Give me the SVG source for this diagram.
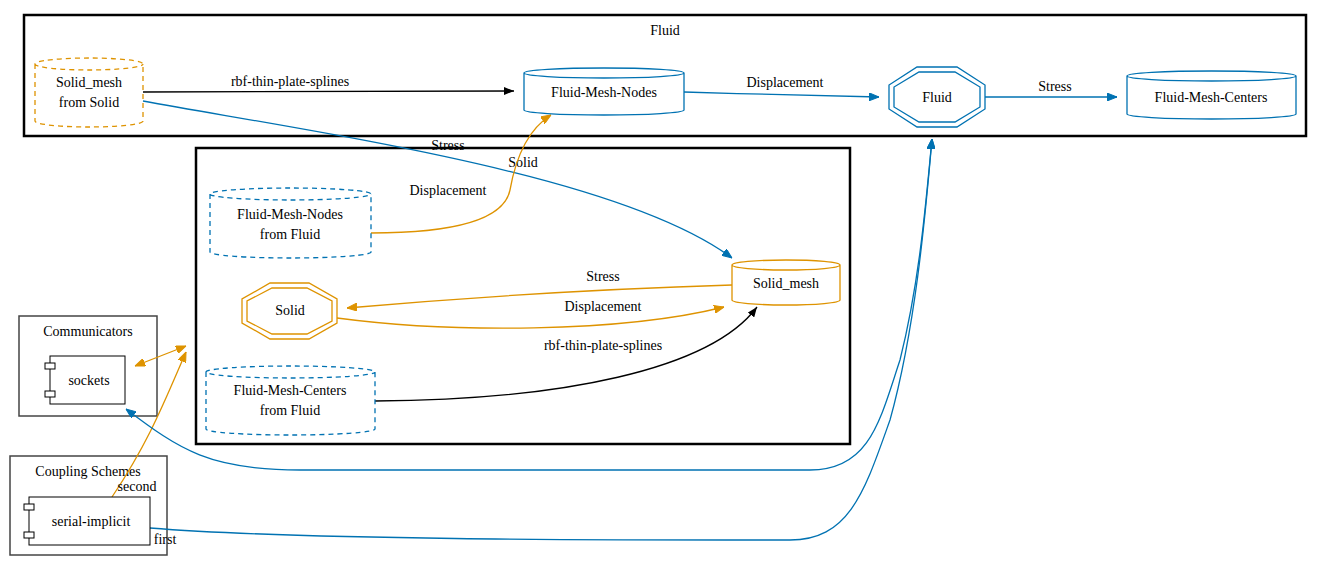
<svg xmlns="http://www.w3.org/2000/svg" width="1322" height="572" viewBox="0 0 1322 572" font-family="'Liberation Serif', 'DejaVu Serif', serif">
<style>
text{font-family:'Liberation Serif','DejaVu Serif',serif;font-size:14px;fill:#000;text-anchor:middle}
.cl{fill:none;stroke:#000;stroke-width:2.5}
.gb{fill:none;stroke:#444;stroke-width:1.5}
.o{fill:none;stroke:#DE9300;stroke-width:1.3}
.b{fill:none;stroke:#0072B2;stroke-width:1.3}
.k{fill:none;stroke:#000;stroke-width:1.3}
.d{stroke-dasharray:5,4}
.w{fill:#fff;stroke:#000;stroke-width:1}
</style>
<defs>
<marker id="ak" markerWidth="10" markerHeight="8" refX="10" refY="4" orient="auto-start-reverse" markerUnits="userSpaceOnUse"><path d="M0,0 L10,4 L0,8z" fill="#000"/></marker>
<marker id="ao" markerWidth="10" markerHeight="8" refX="10" refY="4" orient="auto-start-reverse" markerUnits="userSpaceOnUse"><path d="M0,0 L10,4 L0,8z" fill="#DE9300" stroke="#DE9300"/></marker>
<marker id="ab" markerWidth="10" markerHeight="8" refX="10" refY="4" orient="auto-start-reverse" markerUnits="userSpaceOnUse"><path d="M0,0 L10,4 L0,8z" fill="#0072B2" stroke="#0072B2"/></marker>
</defs>
<rect width="1322" height="572" fill="#fff"/>
<g id="cluster-fluid"><rect class="cl" x="24" y="15" width="1282" height="121"/><text x="665" y="35">Fluid</text></g>
<g id="cluster-solid"><rect class="cl" x="196" y="148" width="654" height="296"/><text x="523" y="167">Solid</text></g>
<g id="cluster-comm"><rect class="gb" x="19" y="316" width="138" height="100"/><text x="88" y="336">Communicators</text></g>
<g id="cluster-coupling"><rect class="gb" x="10" y="456" width="157" height="99"/><text x="88" y="476">Coupling Schemes</text></g>

<g id="connectors">
<path class="k" d="M143,92 L514,91" marker-end="url(#ak)"/><text x="290" y="86">rbf-thin-plate-splines</text>
<path class="b" d="M684,92 C750,94 820,96 879,97" marker-end="url(#ab)"/><text x="785" y="87">Displacement</text>
<path class="b" d="M985,97 L1117,97" marker-end="url(#ab)"/><text x="1055" y="91">Stress</text>
<path class="b" d="M143,101 C330,135 620,175 732,258" marker-end="url(#ab)"/><text x="448" y="150">Stress</text>
<path class="o" d="M371,233 C470,233 505,215 510,190 C518,145 535,125 551,115" marker-end="url(#ao)"/><text x="448" y="195">Displacement</text>
<path class="o" d="M732,285 C600,289 460,298 347,308" marker-end="url(#ao)"/><text x="603" y="281">Stress</text>
<path class="o" d="M337,318 C450,333 620,333 724,307" marker-end="url(#ao)"/><text x="603" y="311">Displacement</text>
<path class="k" d="M375,401 C560,400 710,370 757,307" marker-end="url(#ak)"/><text x="603" y="350">rbf-thin-plate-splines</text>
<path class="o" d="M135,366 L186,346" marker-start="url(#ao)" marker-end="url(#ao)"/>
<path class="o" d="M112,497 C150,440 165,400 186,352" marker-end="url(#ao)"/>
<path class="b" d="M126,409 C180,450 210,470 300,470 L810,470 C870,470 880,420 900,360 C920,280 926,200 932,139" marker-start="url(#ab)" marker-end="url(#ab)"/>
<path class="b" d="M150,528 C300,540 600,540 790,540 C850,540 865,490 890,420 C915,330 925,220 932,139" marker-end="url(#ab)"/>
<text x="137" y="491">second</text><text x="165" y="544">first</text>
</g>

<g id="n-solidmesh-from-solid">
<path class="o d" d="M35,64 L35,121 A54,6 0 0 0 143,121 L143,64 A54,6 0 0 0 35,64 A54,6 0 0 0 143,64"/>
<text x="89" y="87">Solid_mesh</text><text x="89" y="107">from Solid</text></g>
<g id="n-fluid-mesh-nodes">
<path class="b" d="M524,73 L524,110 A80,5 0 0 0 684,110 L684,73 A80,5 0 0 0 524,73 A80,5 0 0 0 684,73"/>
<text x="604" y="97">Fluid-Mesh-Nodes</text></g>
<g id="n-fluid">
<polygon class="b" points="917,67 957,67 985,85 985,109 957,127 917,127 889,109 889,85"/>
<polygon class="b" points="919,72 955,72 980,87 980,107 955,122 919,122 894,107 894,87"/>
<text x="937" y="102">Fluid</text></g>
<g id="n-fluid-mesh-centers">
<path class="b" d="M1127,76 L1127,114 A84.5,5 0 0 0 1296,114 L1296,76 A84.5,5 0 0 0 1127,76 A84.5,5 0 0 0 1296,76"/>
<text x="1211" y="102">Fluid-Mesh-Centers</text></g>
<g id="n-fmn-from-fluid">
<path class="b d" d="M210,194 L210,252 A80.5,6 0 0 0 371,252 L371,194 A80.5,6 0 0 0 210,194 A80.5,6 0 0 0 371,194"/>
<text x="290" y="219">Fluid-Mesh-Nodes</text><text x="290" y="239">from Fluid</text></g>
<g id="n-solid-mesh">
<path class="o" d="M732,265 L732,300 A54,5 0 0 0 840,300 L840,265 A54,5 0 0 0 732,265 A54,5 0 0 0 840,265"/>
<text x="786" y="288">Solid_mesh</text></g>
<g id="n-solid">
<polygon class="o" points="270,283 309,283 337,299 337,323 309,339 270,339 242,323 242,299"/>
<polygon class="o" points="272,288 307,288 332,301 332,321 307,334 272,334 247,321 247,301"/>
<text x="290" y="315">Solid</text></g>
<g id="n-fmc-from-fluid">
<path class="b d" d="M206,372 L206,429 A84.5,6 0 0 0 375,429 L375,372 A84.5,6 0 0 0 206,372 A84.5,6 0 0 0 375,372"/>
<text x="290" y="395">Fluid-Mesh-Centers</text><text x="290" y="415">from Fluid</text></g>
<g id="n-sockets">
<rect class="w" x="50" y="356" width="75" height="48"/>
<rect class="w" x="45" y="363" width="10" height="6"/><rect class="w" x="45" y="391" width="10" height="6"/>
<text x="89" y="385">sockets</text></g>
<g id="n-serial-implicit">
<rect class="w" x="29" y="497" width="121" height="48"/>
<rect class="w" x="24" y="504" width="10" height="6"/><rect class="w" x="24" y="532" width="10" height="6"/>
<text x="91" y="526">serial-implicit</text></g>
</svg>
